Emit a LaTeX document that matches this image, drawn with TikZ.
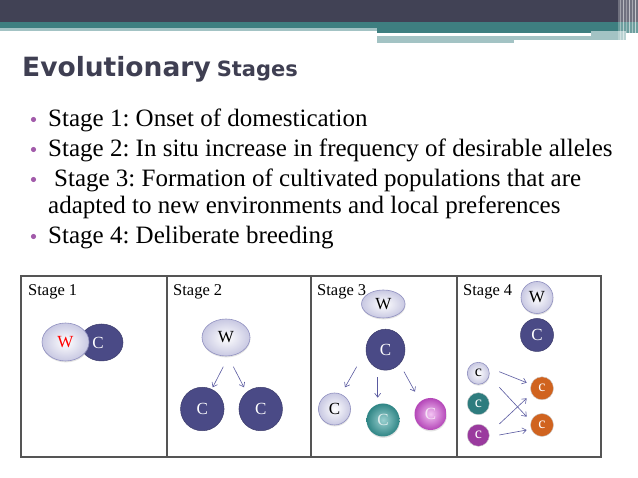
\documentclass[tikz,border=0pt]{standalone}
\usepackage{fontspec}
\setmainfont{Liberation Serif}
\newfontfamily\titlefont{DejaVu Sans}
\usetikzlibrary{shapes.geometric,arrows.meta,shadows}
\frenchspacing
\definecolor{hdark}{HTML}{414255}
\definecolor{hteal}{HTML}{3E7F80}
\definecolor{hlight}{HTML}{A3C3C4}
\definecolor{navy}{HTML}{4A4A86}
\definecolor{lav}{HTML}{C8C8E2}
\definecolor{lavborder}{HTML}{9090C0}
\definecolor{arrowc}{HTML}{5A5AA0}
\definecolor{tealc}{HTML}{2F8585}
\definecolor{tealin}{HTML}{9AD0D0}
\definecolor{magc}{HTML}{B446B8}
\definecolor{magin}{HTML}{F4C4F4}
\definecolor{orangec}{HTML}{D0631F}
\definecolor{stealc}{HTML}{2E7C7E}
\definecolor{purplec}{HTML}{9A3A9E}
\definecolor{bulletc}{HTML}{A25BAA}
\definecolor{titlec}{HTML}{3F3F52}
\definecolor{gridc}{HTML}{555555}
\tikzset{
  shad/.style={drop shadow={opacity=0.22, shadow xshift=0.4pt, shadow yshift=-1.4pt}},
  lightnode/.style={ellipse, inner sep=0pt, draw=lavborder, line width=0.6pt,
    shading=radial, inner color=white, outer color=lav, shad,
    font=\fontsize{17}{17}\selectfont},
  darknode/.style={ellipse, inner sep=0pt, draw=navy!80!black, line width=0.5pt,
    fill=navy, text=white, font=\fontsize{17}{17}\selectfont},
  tealball/.style={circle, inner sep=0pt, shading=radial, inner color=tealin,
    outer color=tealc, text=white!85!tealc, shad, font=\fontsize{17}{17}\selectfont},
  magball/.style={circle, inner sep=0pt, shading=radial, inner color=magin,
    outer color=magc, text=white!85!magc, shad, font=\fontsize{17}{17}\selectfont},
  smalllight/.style={circle, inner sep=0pt, minimum size=22pt, draw=lavborder,
    line width=0.6pt, shading=radial, inner color=white, outer color=lav, shad,
    font=\fontsize{16}{16}\selectfont},
  smallfill/.style={circle, inner sep=0pt, minimum size=#1, text=white,
    draw=white!60!gray, line width=0.4pt, font=\fontsize{16}{16}\selectfont},
  arr/.style={draw=arrowc, line width=0.6pt, -{Straight Barb[length=4pt,width=6pt]}},
  bul/.style={anchor=base west, inner sep=0pt, font=\fontsize{25}{25}\selectfont},
  stagelbl/.style={anchor=base west, inner sep=0pt, font=\fontsize{16.5}{16.5}\selectfont},
}
\begin{document}
\begin{tikzpicture}[x=1pt, y=-1pt]
\useasboundingbox (0,0) rectangle (638,478);
\fill[white] (0,0) rectangle (638,478);
% header stripes
\fill[hdark] (0,0) rectangle (638,21.7);
\fill[hteal] (0,21.7) rectangle (638,27.7);
\fill[hteal] (377,27.7) rectangle (638,33.3);
\fill[hlight] (0,27.7) rectangle (377,31);
\fill[hlight] (377,35.7) rectangle (514,43.3);
\fill[hlight] (514,35.7) rectangle (626,40.3);
\fill[hlight] (591,31) rectangle (626,35.7);
\fill[white] (377,33.3) rectangle (591,35.7);
\fill[white, opacity=0.25] (618,0) rectangle (638,43);
\foreach \xx/\op in {620/0.35,623/0.5,626/0.3,629/0.55,632/0.4,635/0.6}
  \fill[white, opacity=\op] (\xx,0) rectangle (\xx+1.2,44);
% title
\node[anchor=base west, inner sep=0pt, text=titlec] (title) at (22,77)
  {\titlefont\bfseries\fontsize{26.5}{26.5}\selectfont Evolutionary\hspace{6pt}\fontsize{21}{21}\selectfont Stages};
% bullets
\foreach \yy in {127,157,187,244}
  \fill[bulletc] (33.5,\yy-7.5) circle (2.6);
\node[bul] (b1) at (48,127) {Stage 1: Onset of domestication};
\node[bul] (b2) at (48,157) {Stage 2: In situ increase in frequency of desirable alleles};
\node[bul] (b3) at (54,187) {Stage 3: Formation of cultivated populations that are};
\node[bul] (b3b) at (48,214) {adapted to new environments and local preferences};
\node[bul] (b4) at (48,244) {Stage 4: Deliberate breeding};
% table
\draw[gridc, line width=1.1pt] (21,276) rectangle (601,457);
\draw[gridc, line width=1.1pt] (167,276) -- (167,457);
\draw[gridc, line width=1.1pt] (311,276) -- (311,457);
\draw[gridc, line width=1.1pt] (457,276) -- (457,457);
\node[stagelbl] (s1) at (28,296) {Stage 1};
\node[stagelbl] (s2) at (173,296) {Stage 2};
\node[stagelbl] (s3) at (317,296) {Stage 3};
\node[stagelbl] (s4) at (463,296) {Stage 4};
% stage 1
\node[darknode, minimum width=43pt, minimum height=37pt] (c1) at (101.5,342.5) {\hspace{-7pt}C};
\node[lightnode, minimum width=47pt, minimum height=38pt, text=red] (w1) at (65.5,342) {W};
% stage 2
\node[lightnode, minimum width=48pt, minimum height=37pt] (w2) at (226,337.5) {W};
\node[darknode, minimum width=43.5pt, minimum height=43.5pt] (c2a) at (202.3,409) {C};
\node[darknode, minimum width=43.5pt, minimum height=43.5pt] (c2b) at (260.7,409) {C};
\coordinate (a2s) at (223.3,366.7); \coordinate (a2e) at (212.7,387.3);
\coordinate (b2s) at (233.3,366.7); \coordinate (b2e) at (244,387.3);
\draw[arr] (a2s) -- (a2e);
\draw[arr] (b2s) -- (b2e);
% stage 3
\node[lightnode, minimum width=43.5pt, minimum height=28pt] (w3) at (383.3,304) {W};
\node[darknode, minimum width=39pt, minimum height=41pt] (c3) at (385.5,349.7) {C};
\node[lightnode, circle, minimum size=32pt] (c3w) at (334.5,409) {C};
\node[tealball, minimum size=33pt] (c3t) at (383,420) {C};
\node[magball, minimum size=32pt] (c3m) at (430.5,414) {C};
\coordinate (a3s) at (356.7,366.7); \coordinate (a3e) at (345,387.3);
\coordinate (b3s) at (377.7,377.3); \coordinate (b3e) at (377.7,397.7);
\coordinate (d3s) at (404,371.7); \coordinate (d3e) at (415,391.7);
\draw[arr] (a3s) -- (a3e);
\draw[arr] (b3s) -- (b3e);
\draw[arr] (d3s) -- (d3e);
% stage 4
\node[lightnode, circle, minimum size=32pt] (w4) at (537,297.5) {W};
\node[darknode, circle, minimum size=33pt] (c4) at (537,335) {C};
\node[smalllight] (p1) at (478.3,373.3) {c};
\node[smallfill=22pt, fill=stealc] (p2) at (478.3,403.7) {c};
\node[smallfill=22pt, fill=purplec] (p3) at (478.3,435.3) {c};
\node[smallfill=23pt, fill=orangec] (o1) at (542,388.3) {c};
\node[smallfill=23pt, fill=orangec] (o2) at (542,425) {c};
\coordinate (e1s) at (499.3,371.7); \coordinate (e1e) at (526.7,382.7);
\coordinate (e2s) at (499.3,387.3); \coordinate (e2e) at (526.7,416.7);
\coordinate (e3s) at (499.3,424);   \coordinate (e3e) at (526.7,398.3);
\coordinate (e4s) at (499.3,435);   \coordinate (e4e) at (526.7,430);
\draw[arr] (e1s) -- (e1e);
\draw[arr] (e2s) -- (e2e);
\draw[arr] (e3s) -- (e3e);
\draw[arr] (e4s) -- (e4e);
\end{tikzpicture}
\end{document}
